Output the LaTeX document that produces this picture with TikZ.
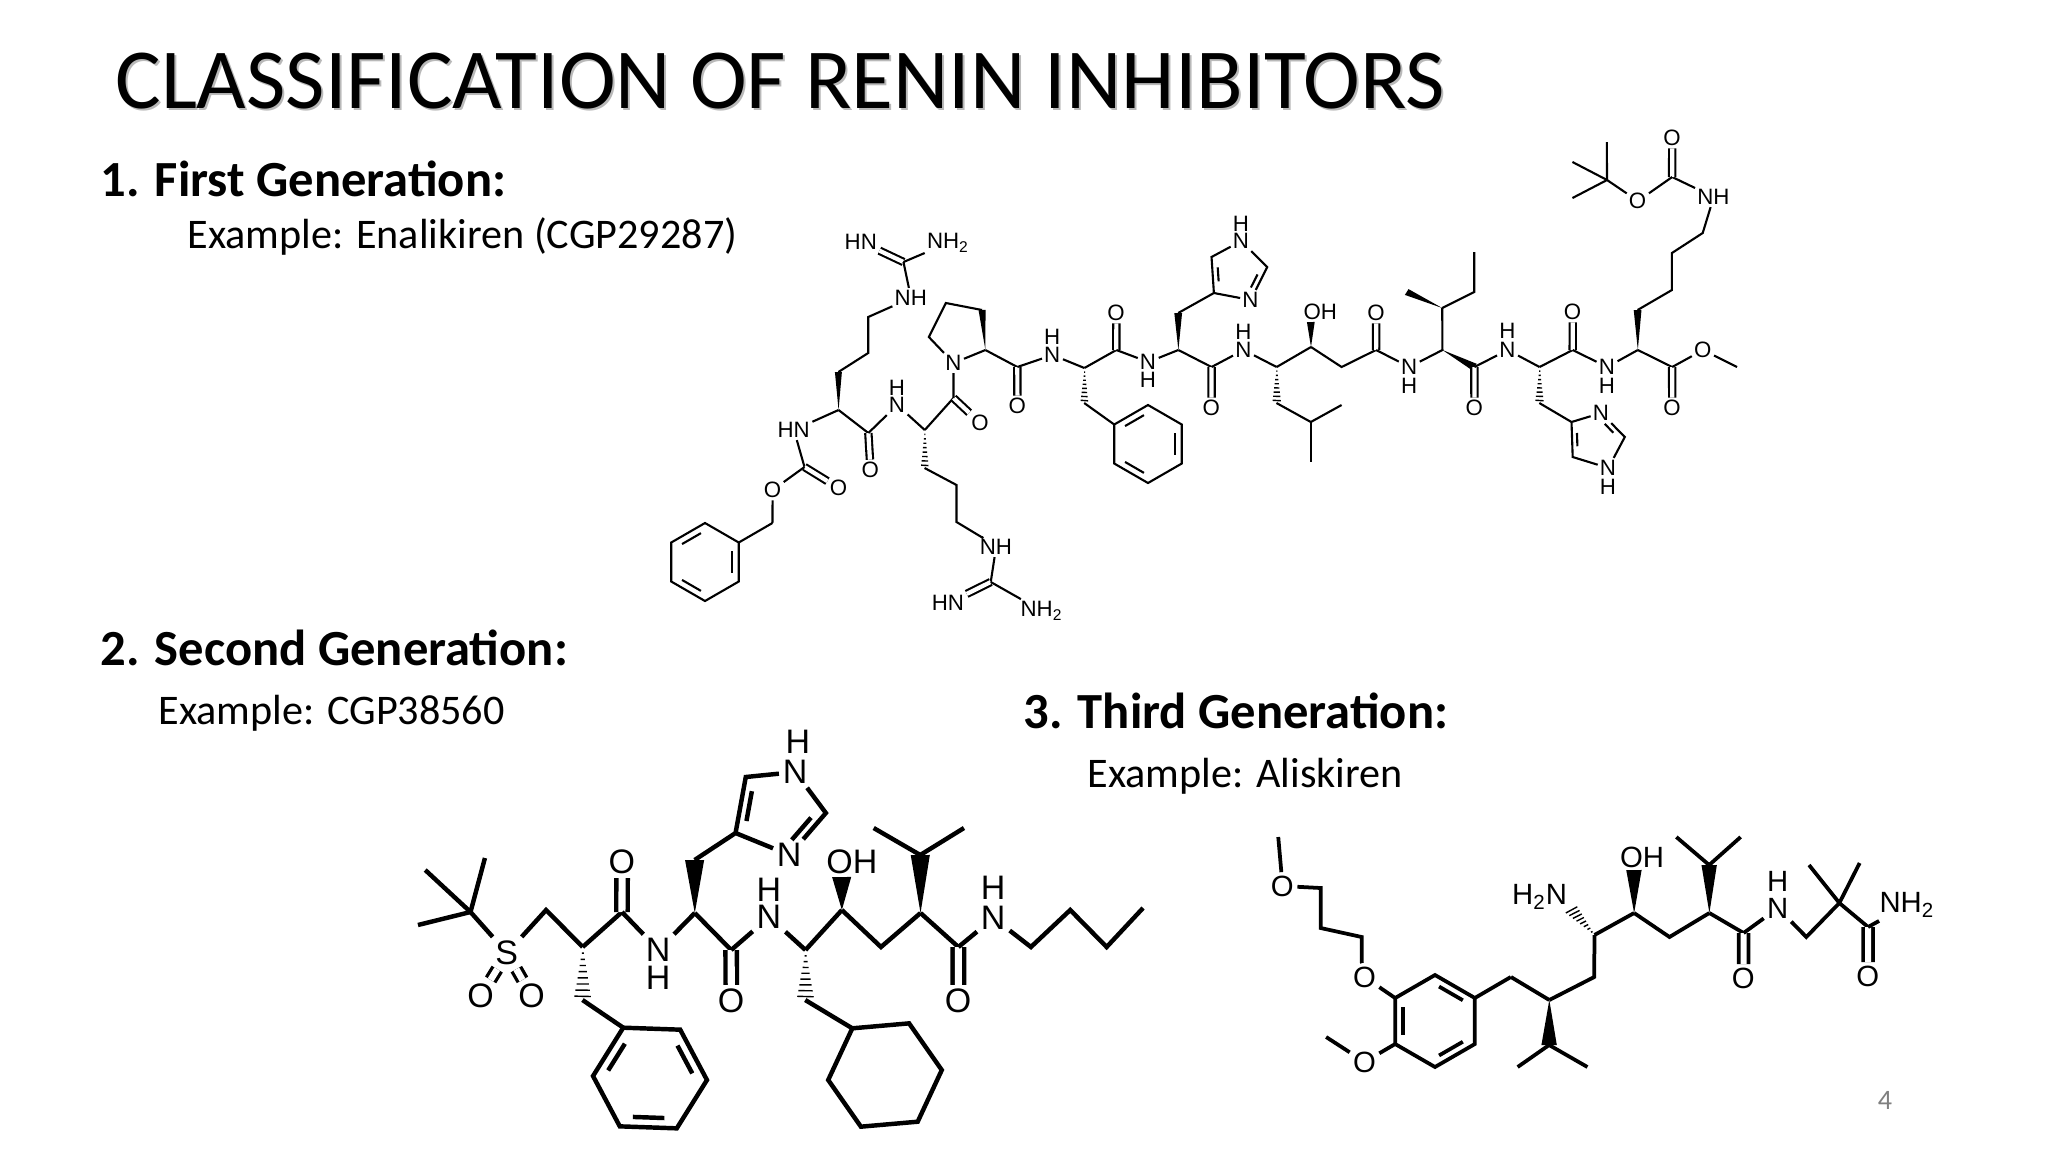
\documentclass[tikz,border=0pt]{standalone}
\usepackage{fontspec}
\setmainfont{Carlito}
\setsansfont{Liberation Sans}
\usetikzlibrary{calc}
\newcommand\wdg[3][1.4pt]{\fill ($(#2)$) -- ($(#3)!#1!90:(#2)$) -- ($(#3)!#1!-90:(#2)$) -- cycle;}
\newcommand\hsh[3][1.6pt]{\foreach \i in {1,...,8}{\pgfmathsetmacro\tt{\i/8.6}\path ($(#2)!\tt!(#3)$) coordinate (hm); \draw[line width=0.6pt] ($(hm)!\tt*#1!90:(#3)$) -- ($(hm)!\tt*#1!-90:(#3)$);}}
\newcommand\hexr[5]{\foreach \k in {1,...,6}{\coordinate (#4\k) at ($(#1)+({#3+60*(\k-1)}:#2)$);}
 \draw (#41)--(#42)--(#43)--(#44)--(#45)--(#46)--cycle;
 \ifnum#5=1
 \draw[shorten <=2pt,shorten >=2pt] ($(#41)!0.2!(#1)$) -- ($(#42)!0.2!(#1)$);
 \draw[shorten <=2pt,shorten >=2pt] ($(#43)!0.2!(#1)$) -- ($(#44)!0.2!(#1)$);
 \draw[shorten <=2pt,shorten >=2pt] ($(#45)!0.2!(#1)$) -- ($(#46)!0.2!(#1)$);
 \fi
 \ifnum#5=2
 \draw[shorten <=3pt,shorten >=3pt] ($(#42)!0.2!(#1)$) -- ($(#43)!0.2!(#1)$);
 \draw[shorten <=3pt,shorten >=3pt] ($(#44)!0.2!(#1)$) -- ($(#45)!0.2!(#1)$);
 \draw[shorten <=3pt,shorten >=3pt] ($(#46)!0.2!(#1)$) -- ($(#41)!0.2!(#1)$);
 \fi}
\newcommand\innr[3]{\draw[shorten <=3pt,shorten >=3pt] ($(#1)!0.22!(#3)$) -- ($(#2)!0.22!(#3)$);}
\begin{document}
\begin{tikzpicture}[x=0.015cm,y=-0.015cm,
  dbl/.style={double,double distance=2.2pt},
  ea/.style={font=\sffamily\fontsize{9.5}{10}\selectfont,inner sep=0.6pt},
  ga/.style={font=\sffamily\fontsize{14.5}{15}\selectfont,inner sep=0.8pt},
  aa/.style={font=\sffamily\fontsize{12.5}{13}\selectfont,inner sep=0.7pt},
  txt/.style={anchor=west,inner sep=0pt}]
\useasboundingbox (0,0) rectangle (2048,1152);
% texts
\node[txt,text=gray!55,font=\fontsize{36.5}{40}\selectfont] at (117,83) {CLASSIFICATION OF RENIN INHIBITORS};
\node[txt,font=\fontsize{36.5}{40}\selectfont] (title) at (115,81) {CLASSIFICATION OF RENIN INHIBITORS};
\node[txt,font=\bfseries\fontsize{21.6}{24}\selectfont] (h1) at (100,179) {1. First Generation:};
\node[txt,font=\fontsize{18}{21}\selectfont] (e1) at (187,236) {Example: Enalikiren (CGP29287)};
\node[txt,font=\bfseries\fontsize{21.6}{24}\selectfont] (h2) at (100,648) {2. Second Generation:};
\node[txt,font=\fontsize{18}{21}\selectfont] (e2) at (158,713) {Example: CGP38560};
\node[txt,font=\bfseries\fontsize{21.6}{24}\selectfont] (h3) at (1023,711) {3. Third Generation:};
\node[txt,font=\fontsize{18}{21}\selectfont] (e3) at (1087,776) {Example: Aliskiren};
\node[font=\fontsize{12}{13}\selectfont,text=gray] (pg) at (1885,1100) {4};

% ===== Enalkiren, left part =====
\begin{scope}[line width=0.9pt,xshift=-0.543cm,xscale=1.064]
\coordinate (gC1) at (883,262);
\node[ea] (hn1) at (843,242) {HN};
\node[ea] (nh2a) at (925,243) {NH\textsubscript{2}};
\node[ea] (nh1) at (890,298) {NH};
\draw[dbl,double distance=1.8pt] (hn1) -- (gC1); \draw (gC1) -- (nh2a); \draw (gC1) -- (nh1);
\draw (nh1) -- (850,317) -- (850,353) -- (822,372);
\coordinate (a1) at (822,410);
\wdg{a1}{822,372}
\node[ea] (hn2) at (780,430) {HN};
\draw (a1) -- (hn2);
\coordinate (c1) at (850,433); \draw (a1) -- (c1);
\node[ea] (o1) at (852,470) {O}; \draw[dbl,double distance=1.8pt] (c1) -- (o1);
\node[ea] (n3) at (877,405) {N}; \node[ea] at (877,388) {H}; \draw (c1) -- (n3);
\coordinate (c2) at (790,467); \draw (hn2) -- (c2);
\node[ea] (o2) at (822,488) {O}; \draw[dbl,double distance=1.8pt] (c2) -- (o2);
\node[ea] (o3) at (760,490) {O}; \draw (c2) -- (o3);
\draw (o3) -- (760,523) coordinate (bzat);
\coordinate (a2) at (903,430); \draw (n3) -- (a2);
\hsh{a2}{903,468}
\draw (903,468) -- (933,485) -- (933,522) -- (958,538);
\node[ea] (nh4) at (970,547) {NH}; \draw (958,538) -- (nh4);
\coordinate (gC2) at (965,582); \draw (nh4) -- (gC2);
\node[ea] (hn3) at (925,603) {HN}; \draw[dbl,double distance=1.8pt] (gC2) -- (hn3);
\node[ea] (nh2b) at (1013,611) {NH\textsubscript{2}}; \draw (gC2) -- (nh2b);
\coordinate (c3) at (930,398); \draw (a2) -- (c3);
\node[ea] (o4) at (955,423) {O}; \draw[dbl,double distance=1.8pt] (c3) -- (o4);
\node[ea] (n5) at (930,363) {N}; \draw (c3) -- (n5);
\coordinate (pa) at (960,350);
\draw (n5) -- (907,337) -- (923,303) -- (957,310);
\draw (pa) -- (n5);
\wdg{pa}{957,310}
\coordinate (c4) at (990,367); \draw (pa) -- (c4);
\node[ea] (o5) at (990,406) {O}; \draw[dbl,double distance=1.8pt] (c4) -- (o5);
\node[ea] (n6) at (1023,355) {N}; \node[ea] at (1023,337) {H}; \draw (c4) -- (n6);
\coordinate (a3) at (1053,368); \draw (n6) -- (a3);
\hsh{a3}{1053,403}
\coordinate (phat) at (1053,403);
\coordinate (c5) at (1083,350); \draw (a3) -- (c5);
\node[ea] (o6) at (1083,313) {O}; \draw[dbl,double distance=1.8pt] (c5) -- (o6);
\node[ea] (n7) at (1113,362) {N}; \node[ea] at (1113,380) {H}; \draw (c5) -- (n7);
\end{scope}
\begin{scope}[line width=0.9pt]
\hexr{705,562}{39}{-30}{bz}{1}
\draw (bzat) -- (bz1);
\hexr{1148,444}{39}{-150}{ph}{1}
\draw (phat) -- (ph1);
\end{scope}

% ===== Enalkiren, right part =====
\begin{scope}[line width=0.9pt,xshift=-3.195cm,xscale=1.184]
\coordinate (a4) at (1175,350); \draw (n7) -- (a4);
\wdg{a4}{1175,313}
\coordinate (i1c4) at (1205,293); \coordinate (i1c5) at (1203,257); \coordinate (i1c2) at (1250,267);
\node[ea] (i1n1) at (1228,241) {N}; \node[ea] at (1228,224) {H};
\node[ea] (i1n3) at (1236,300) {N};
\coordinate (i1ct) at (1225,272);
\draw (1175,313) -- (i1c4) -- (i1c5) -- (i1n1) -- (i1c2) -- (i1n3) -- (i1c4);
\innr{i1c4}{i1c5}{i1ct} \innr{i1c2}{i1n3}{i1ct}
\coordinate (c6) at (1203,367); \draw (a4) -- (c6);
\node[ea] (o7) at (1203,408) {O}; \draw[dbl,double distance=1.8pt] (c6) -- (o7);
\node[ea] (n8) at (1230,350) {N}; \node[ea] at (1230,332) {H}; \draw (c6) -- (n8);
\coordinate (a5) at (1258,367); \draw (n8) -- (a5);
\hsh{a5}{1258,403}
\draw (1258,403) -- (1287,422) -- (1313,405); \draw (1287,422) -- (1287,462);
\coordinate (a6) at (1287,347); \draw (a5) -- (a6);
\wdg{a6}{1287,322}
\node[ea] at (1295,312) {OH};
\draw (a6) -- (1313,367) -- (1342,350) coordinate (c7);
\node[ea] (o8) at (1342,313) {O}; \draw[dbl,double distance=1.8pt] (c7) -- (o8);
\node[ea] (n9) at (1370,367) {N}; \node[ea] at (1370,386) {H}; \draw (c7) -- (n9);
\coordinate (a7) at (1398,350); \draw (n9) -- (a7) -- (1398,308);
\wdg{1398,308}{1368,292}
\draw (1398,308) -- (1425,292) -- (1425,252);
\coordinate (c8) at (1425,367);
\wdg[1.6pt]{a7}{c8}
\node[ea] (o9) at (1425,408) {O}; \draw[dbl,double distance=1.8pt] (c8) -- (o9);
\node[ea] (n10) at (1453,350) {N}; \node[ea] at (1453,331) {H}; \draw (c8) -- (n10);
\coordinate (a8) at (1480,367); \draw (n10) -- (a8);
\hsh{a8}{1480,403}
\coordinate (i2c4) at (1507,422); \coordinate (i2c2) at (1552,437); \coordinate (i2c5) at (1508,457);
\node[ea] (i2n3) at (1532,413) {N}; \node[ea] (i2n1) at (1538,468) {N}; \node[ea] at (1538,487) {H};
\coordinate (i2ct) at (1527,440);
\draw (1480,403) -- (i2c4) -- (i2n3) -- (i2c2) -- (i2n1) -- (i2c5) -- (i2c4);
\innr{i2n3}{i2c2}{i2ct} \innr{i2c5}{i2c4}{i2ct}
\coordinate (c9) at (1508,350); \draw (a8) -- (c9);
\node[ea] (o10) at (1508,312) {O}; \draw[dbl,double distance=1.8pt] (c9) -- (o10);
\node[ea] (n11) at (1537,367) {N}; \node[ea] at (1537,386) {H}; \draw (c9) -- (n11);
\coordinate (a9) at (1563,350); \draw (n11) -- (a9);
\wdg{a9}{1563,310}
\node[ea] (n12) at (1627,197) {NH};
\draw (1563,310) -- (1592,290) -- (1592,253) -- (1618,233) -- (n12);
\coordinate (c10) at (1592,177); \draw (n12) -- (c10);
\node[ea] (o11) at (1592,138) {O}; \draw[dbl,double distance=1.8pt] (c10) -- (o11);
\node[ea] (o12) at (1563,201) {O}; \draw (c10) -- (o12);
\coordinate (tb) at (1537,180); \draw (o12) -- (tb);
\draw (tb) -- (1537,142); \draw (tb) -- (1508,162); \draw (tb) -- (1508,198);
\coordinate (c11) at (1592,367); \draw (a9) -- (c11);
\node[ea] (o13) at (1592,408) {O}; \draw[dbl,double distance=1.8pt] (c11) -- (o13);
\node[ea] (o14) at (1618,350) {O}; \draw (c11) -- (o14); \draw (o14) -- (1647,367);
\end{scope}

% ===== CGP38560 =====
\begin{scope}[line width=1.9pt,xshift=-2.7285cm,xscale=1.456]
\coordinate (t) at (448,912);
\draw (t) -- (417,870); \draw (t) -- (458,858); \draw (t) -- (412,925);
\node[ga] (s) at (473,953) {S}; \draw (t) -- (s);
\node[ga] (so1) at (455,996) {O}; \node[ga] (so2) at (490,996) {O};
\draw[dbl,line width=1.4pt,double distance=2.8pt] (s) -- (so1);
\draw[dbl,line width=1.4pt,double distance=2.8pt] (s) -- (so2);
\coordinate (b1) at (525,947);
\draw (s) -- (500,910) -- (b1);
\hsh[2.6pt]{b1}{525,1000}
\coordinate (gbat) at (525,1000);
\coordinate (b2) at (552,912); \draw (b1) -- (b2);
\node[ga] (go1) at (552,862) {O}; \draw[dbl,double distance=3pt] (b2) -- (go1);
\node[ga] (gn1) at (577,950) {N}; \node[ga] at (577,978) {H}; \draw (b2) -- (gn1);
\coordinate (b3) at (602,913); \draw (gn1) -- (b3);
\wdg[2.8pt]{b3}{602,860}
\coordinate (g4) at (630,833); \coordinate (g5) at (637,777); \coordinate (g2) at (692,813);
\node[ga] (gi1) at (671,772) {N}; \node[ga] at (673,742) {H};
\node[ga] (gi3) at (667,855) {N};
\coordinate (gict) at (660,810);
\draw (602,860) -- (g4) -- (g5) -- (gi1) -- (g2) -- (gi3) -- (g4);
\innr{g4}{g5}{gict} \innr{g2}{gi3}{gict}
\coordinate (b4) at (627,950); \draw (b3) -- (b4);
\node[ga] (go2) at (627,1001) {O}; \draw[dbl,double distance=3pt] (b4) -- (go2);
\node[ga] (gn2) at (653,917) {N}; \node[ga] at (653,890) {H}; \draw (b4) -- (gn2);
\coordinate (b5) at (678,950); \draw (gn2) -- (b5);
\hsh[2.6pt]{b5}{678,1000}
\coordinate (cyat) at (678,1000);
\coordinate (b6) at (703,910); \draw (b5) -- (b6);
\wdg[2.8pt]{b6}{703,877}
\node[ga] at (710,862) {OH};
\coordinate (b7) at (757,913);
\draw (b6) -- (730,947) -- (b7);
\wdg[2.8pt]{b7}{757,855}
\draw (757,855) -- (725,828); \draw (757,855) -- (787,828);
\coordinate (b8) at (783,947); \draw (b7) -- (b8);
\node[ga] (go3) at (783,1001) {O}; \draw[dbl,double distance=3pt] (b8) -- (go3);
\node[ga] (gn3) at (807,918) {N}; \node[ga] at (807,888) {H}; \draw (b8) -- (gn3);
\draw (gn3) -- (833,947) -- (860,910) -- (885,947) -- (910,908);
\end{scope}
\begin{scope}[line width=1.9pt]
\hexr{650,1078}{57}{-118}{gb}{2}
\draw (gbat) -- (gb1);
\hexr{885,1075}{57}{-125}{cy}{0}
\draw (cyat) -- (cy1);
\end{scope}

% ===== Aliskiren =====
\begin{scope}[line width=1.6pt,xshift=-7.1325cm,xscale=1.368]
\node[aa] (ao1) at (1285,886) {O};
\draw (1282,837) -- (ao1);
\node[aa] (ao2) at (1345,977) {O};
\draw (ao1) -- (1313,888) -- (1313,928) -- (1343,937) -- (1343,962) -- (ao2);
\node[aa] (ao3) at (1345,1062) {O}; \draw (ao3) -- (1317,1037);
\coordinate (alat) at (1452,977);
\coordinate (d1) at (1480,1000);
\draw (alat) -- (d1);
\wdg[2.4pt]{d1}{1480,1045}
\draw (1480,1045) -- (1457,1067); \draw (1480,1045) -- (1508,1067);
\coordinate (d2) at (1513,935);
\draw (d1) -- (1513,977) -- (d2);
\hsh[2.4pt]{d2}{1495,908}
\node[aa] at (1473,897) {H\textsubscript{2}N};
\coordinate (d3) at (1542,913); \draw (d2) -- (d3);
\wdg[2.4pt]{d3}{1542,870}
\node[aa] at (1548,857) {OH};
\coordinate (d4) at (1597,913);
\draw (d3) -- (1568,937) -- (d4);
\wdg[2.4pt]{d4}{1597,865}
\draw (1597,865) -- (1573,837); \draw (1597,865) -- (1620,837);
\coordinate (d5) at (1622,933); \draw (d4) -- (d5);
\node[aa] (ao4) at (1622,978) {O}; \draw[dbl,double distance=2.6pt] (d5) -- (ao4);
\node[aa] (an1) at (1647,908) {N}; \node[aa] at (1647,881) {H}; \draw (d5) -- (an1);
\coordinate (d6) at (1692,903);
\draw (an1) -- (1668,937) -- (d6);
\draw (d6) -- (1670,865); \draw (d6) -- (1707,863);
\coordinate (d7) at (1713,927); \draw (d6) -- (d7);
\node[aa] (ao5) at (1713,976) {O}; \draw[dbl,double distance=2.6pt] (d7) -- (ao5);
\node[aa,anchor=west] (an2) at (1719,905) {NH\textsubscript{2}}; \draw (d7) -- (an2);
\end{scope}
\begin{scope}[line width=1.6pt]
\hexr{1435,1021}{46}{-90}{ar}{1}
\draw (ao2) -- (ar6);
\draw (ar5) -- (ao3);
\draw (ar2) -- (alat);
\end{scope}
\end{tikzpicture}
\end{document}
